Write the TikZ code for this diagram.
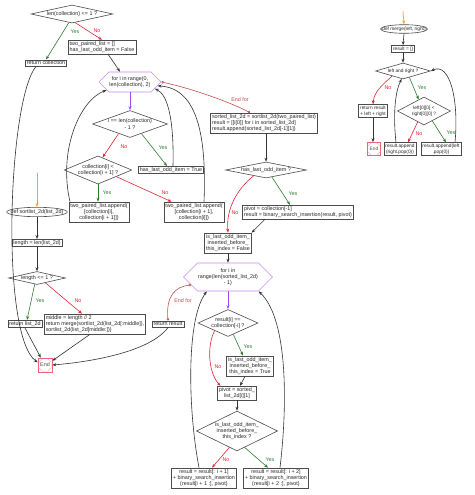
\documentclass[tikz,border=0pt]{standalone}
\usepackage{fontspec}
\setmainfont{Liberation Sans}
\usetikzlibrary{shapes.geometric,shapes.symbols,arrows.meta}

\definecolor{yesgreen}{HTML}{2E7D32}
\definecolor{nored}{HTML}{E3263A}
\definecolor{endred}{HTML}{C0504D}
\definecolor{forpurple}{HTML}{A24BF0}
\definecolor{hexpurple}{HTML}{C78BF2}
\definecolor{startorange}{HTML}{FFA500}
\newcommand{\fs}{\fontsize{5.4}{6.3}\selectfont}
\newcommand{\fsm}{\fontsize{4.8}{5.7}\selectfont}

\begin{document}
\begin{tikzpicture}[x=1pt,y=-1pt,>={Stealth[length=4pt,width=3pt]},
  box/.style={rectangle,draw=black!70,line width=0.6pt,fill=white,inner xsep=1.5pt,inner ysep=1.2pt,font=\fs,align=center,text=black!85},
  lbox/.style={box,align=left},
  cond/.style={diamond,draw=black!70,line width=0.6pt,fill=white,inner sep=0pt,font=\fs,align=center,text=black!85},
  forhex/.style={signal,signal to=east and west,signal pointer angle=90,draw=hexpurple,line width=0.6pt,fill=white,inner sep=0.5pt,font=\fs,align=center,text=black!85},
  entry/.style={ellipse,draw=black!70,line width=0.6pt,fill=white,inner xsep=-5pt,inner ysep=0.8pt,font=\fs,text=black!85},
  endbox/.style={rectangle,draw=nored!70,line width=0.6pt,fill=white,minimum size=14pt,inner sep=0pt,font=\fs,text=black!70,
    path picture={\draw[nored!40,line width=0.4pt] (path picture bounding box.center) +(22.5:6.8pt)
      \foreach \a in {67.5,112.5,...,337.5}{-- +(\a:6.8pt)} -- cycle;}},
  flow/.style={->,draw=black!80,line width=0.6pt},
  yesline/.style={->,draw=yesgreen,line width=0.6pt},
  noline/.style={->,draw=nored,line width=0.6pt},
  forline/.style={->,draw=forpurple,line width=0.7pt},
  endfor/.style={{Circle[open,length=2.5pt]}-{Circle[open,length=2.5pt]},draw=endred,line width=0.6pt},
  startline/.style={->,draw=startorange,line width=0.7pt},
  ylab/.style={font=\fs,text=yesgreen},
  nlab/.style={font=\fs,text=nored},
  elab/.style={font=\fs,text=endred}]
\fill[white] (0,0) rectangle (474,495);
\useasboundingbox (0,0) rectangle (474,495);

% collection sort
\node[cond,aspect=4.5,minimum width=82,minimum height=18] (dlen) at (72,14) {len(collection) <= 1 ?};
\node[box] (rcoll) at (46,63) {return collection};
\node[lbox] (binit) at (102,47) {two\_paired\_list = []\\has\_last\_odd\_item = False};
\node[forhex,minimum width=57,minimum height=20] (hfor) at (130,82) {for i in range(0,\\len(collection), 2)};
\node[cond,aspect=2.8,minimum width=75,minimum height=27] (dlast) at (130,124) {i == len(collection)\\- 1 ?};
\node[cond,aspect=2.4,minimum width=65,minimum height=27] (dcmp) at (98,170) {collection[i] <\\collection[i + 1] ?};
\node[box] (bodd) at (171,170) {has\_last\_odd\_item = True};
\node[box] (bapp1) at (99,212) {two\_paired\_list.append(\\{}[collection[i],\\collection[i + 1]])};
\node[box] (bapp2) at (194,212) {two\_paired\_list.append(\\{}[collection[i + 1],\\collection[i]])};
\node[lbox] (bsort) at (264,123) {sorted\_list\_2d = sortlist\_2d(two\_paired\_list)\\result = [[i[0]] for i in sorted\_list\_2d]\\result.append(sorted\_list\_2d[-1][1])};
\node[cond,aspect=5,minimum width=81,minimum height=16] (dodd) at (266,170) {has\_last\_odd\_item ?};
\node[lbox] (bpiv) at (298,212) {pivot = collection[-1]\\result = binary\_search\_insertion(result, pivot)};
\node[box] (bfalse) at (228,243) {is\_last\_odd\_item\_\\inserted\_before\_\\this\_index = False};
\node[forhex,minimum width=81,minimum height=28] (hfor2) at (228,277) {for i in\\range(len(sorted\_list\_2d)\\- 1)};
\node[cond,aspect=2.2,minimum width=60,minimum height=27] (deq) at (228,323) {result[i] ==\\collection[-i] ?};
\node[box] (btrue) at (250,366) {is\_last\_odd\_item\_\\inserted\_before\_\\this\_index = True};
\node[box] (bpiv2) at (237,393) {pivot = sorted\_\\list\_2d[i][1]};
\node[cond,aspect=2,minimum width=81,minimum height=40] (dins) at (237,431) {is\_last\_odd\_item\_\\inserted\_before\_\\this\_index ?};
\node[box] (bres1) at (204,478) {result = result[: i + 1]\\+ binary\_search\_insertion\\(result[i + 1 :], pivot)};
\node[box] (bres2) at (276,478) {result = result[: i + 2]\\+ binary\_search\_insertion\\(result[i + 2 :], pivot)};
\node[box] (bret) at (168,324) {return result};
\node[endbox] (eend) at (45,365) {End};

% sortlist_2d
\coordinate (sstart) at (37,173);
\node[entry] (edef) at (37,212) {def sortlist\_2d(list\_2d)};
\node[box] (blen) at (37,243) {length = len(list\_2d)};
\node[cond,aspect=4.4,minimum width=57,minimum height=13] (dlen2) at (37,278) {length <= 1 ?};
\node[box] (brl) at (25,324) {return list\_2d};
\node[lbox] (bmid) at (95,324) {middle = length // 2\\return merge(sortlist\_2d(list\_2d[:middle]),\\sortlist\_2d(list\_2d[middle:]))};

% merge
\coordinate (mstart) at (403,11);
\node[entry,font=\fsm] (emerge) at (404,29) {def merge(left, right)};
\node[box,font=\fsm] (bres) at (403,49) {result = []};
\node[cond,font=\fsm,aspect=3.4,minimum width=55,minimum height=16] (dlr) at (403,71) {left and right ?};
\node[box,font=\fsm] (bret2) at (373,111) {return result\\+ left + right};
\node[cond,font=\fsm,aspect=1.9,minimum width=53,minimum height=28] (dlt) at (424,111) {left[0][0] <\\right[0][0] ?};
\node[endbox,font=\fsm,minimum size=13pt] (eend2) at (374,149) {End};
\node[box,font=\fsm] (bar) at (400,149) {result.append\\(right.pop(0))};
\node[box,font=\fsm] (bal) at (441,149) {result.append(left\\.pop(0))};

% connectors: collection sort
\draw[yesline] (dlen.250) -- (rcoll.north);
\draw[noline] (dlen.290) -- (binit.north);
\draw[flow] ([xshift=-10]rcoll.south) .. controls (8,100) and (0,335) .. (eend.160);
\draw[flow] ([xshift=6]binit.south) -- ([xshift=-10]hfor.north);
\draw[forline] (hfor.south) -- (dlast.north);
\draw[yesline] (dlast.-40) -- ([xshift=-4]bodd.north);
\draw[noline] (dlast.220) -- (dcmp.70);
\draw[yesline] (dcmp.south) -- (dcmp.south |- bapp1.north);
\draw[noline] (dcmp.-20) -- ([xshift=8]bapp2.north west);
\draw[flow] ([xshift=2]bodd.north) .. controls (174,120) and (168,95) .. (hfor.-15);
\draw[flow] ([xshift=10]bapp2.north) .. controls (207,130) and (195,88) .. (hfor.-8);
\draw[flow] ([xshift=-29]bapp1.north) .. controls (58,150) and (80,100) .. (hfor.199);
\draw[endfor] (hfor.east) .. controls (190,88) and (230,102) .. ([xshift=-14]bsort.north);
\draw[flow] (dodd.north |- bsort.south) -- (dodd.north);
\draw[yesline] (dodd.-50) -- ([xshift=-8]bpiv.north);
\draw[noline] (dodd.-155) .. controls (236,190) and (226,210) .. (bfalse.north);
\draw[flow] ([xshift=-33]bpiv.south) -- (bfalse.north east);
\draw[flow] (bfalse.south) -- (hfor2.north);
\draw[forline] (hfor2.south) -- (deq.north);
\draw[endfor] (hfor2.192) .. controls (175,287) and (166,296) .. (bret.north);
\draw[flow] (bret.south) .. controls (150,352) and (90,362) .. (eend.east);
\draw[yesline] (deq.-65) -- ([xshift=-7]btrue.north);
\draw[noline] (deq.-150) .. controls (207,345) and (208,372) .. ([xshift=3]bpiv2.north west);
\draw[flow] ([xshift=-5]btrue.south) -- ([xshift=3]bpiv2.north);
\draw[flow] (bpiv2.south) -- (dins.north);
\draw[noline] (dins.-115) -- ([xshift=8]bres1.north);
\draw[yesline] (dins.-65) -- ([xshift=-8]bres2.north);
\draw[flow] ([xshift=-5]bres1.north) .. controls (188,410) and (186,320) .. (hfor2.214);
\draw[flow] ([xshift=4]bres2.north) .. controls (287,410) and (289,320) .. (hfor2.-25);

% connectors: sortlist_2d
\draw[startline] (sstart) -- (edef.north);
\draw[flow] (edef.south) -- (blen.north);
\draw[flow] (blen.south) -- (dlen2.north);
\draw[yesline] (dlen2.-110) -- ([xshift=2]brl.north);
\draw[noline] (dlen2.-30) -- ([xshift=-13]bmid.north);
\draw[flow] (brl.south) -- (eend.120);
\draw[flow] ([xshift=-5]bmid.south) -- (eend.30);

% connectors: merge
\draw[startline] (mstart) -- (emerge.north);
\draw[flow] (emerge.south) -- (bres.north);
\draw[flow] (bres.south) -- (dlr.north);
\draw[noline] (dlr.-155) .. controls (382,85) and (374,92) .. (bret2.north);
\draw[yesline] (dlr.-45) -- (dlt.115);
\draw[flow] (bret2.south) -- (bret2.south |- eend2.north);
\draw[noline] (dlt.-120) -- ([xshift=8]bar.north);
\draw[yesline] (dlt.-50) -- ([xshift=5]bal.north);
\draw[flow] ([xshift=-4]bar.north) .. controls (393,115) and (395,92) .. (dlr.-100);
\draw[flow] ([xshift=14]bal.north) .. controls (459,100) and (450,62) .. (dlr.east);

% branch labels
\foreach \n/\x/\y in {1/75/32,2/163/148,3/107/193,4/293/194,5/40/301,6/248/347,7/270/460,8/422/88,9/451/133}
  \node[ylab] (yes\n) at (\x,\y) {Yes};
\foreach \n/\x/\y in {1/97/31,2/124/147,3/165/193,4/235/213,5/78/301,6/218/367,7/226/460,8/388/88,9/419/134}
  \node[nlab] (no\n) at (\x,\y) {No};
\node[elab] (efor1) at (240,100) {End for};
\node[elab] (efor2) at (183,301) {End for};
\end{tikzpicture}
\end{document}
